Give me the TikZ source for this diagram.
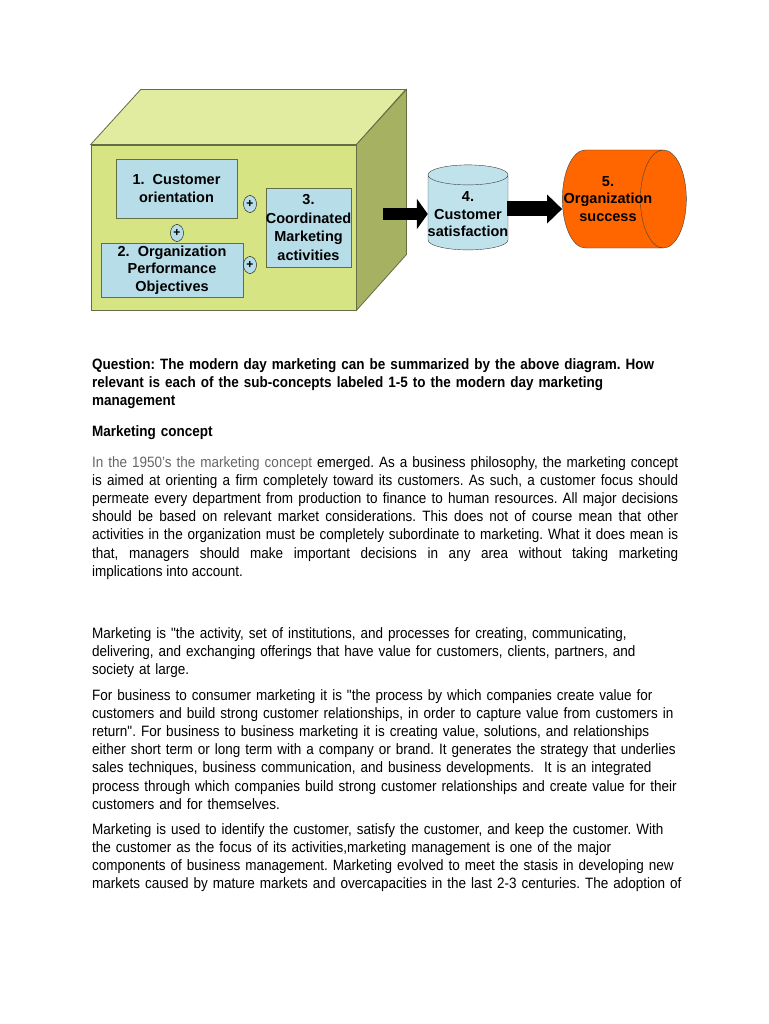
\documentclass[tikz,border=0pt]{standalone}
\usepackage{fontspec}
\setmainfont{Liberation Sans}
\newfontfamily\bodyfont{Liberation Sans}[FakeStretch=0.9]
\usepackage{xcolor}
\usetikzlibrary{shapes.geometric, arrows.meta, positioning}
\definecolor{cubefront}{RGB}{214,228,132}
\definecolor{cubetop}{RGB}{226,236,160}
\definecolor{cubeside}{RGB}{166,178,98}
\definecolor{cubeline}{RGB}{100,110,68}
\definecolor{blu1}{RGB}{183,221,232}
\definecolor{blu2}{RGB}{192,226,234}
\definecolor{orn1}{RGB}{255,102,0}
\tikzstyle{face} = [draw=cubeline, fill=cubefront, line width=0.8pt]
\tikzstyle{concept} = [rectangle, draw=cubeline, fill=blu1, inner sep=0pt,
    align=center, font=\fontsize{14.5}{17.5}\selectfont\bfseries]
\tikzstyle{plus} = [ellipse, draw=black, fill=blu1, inner sep=0pt,
    minimum width=13pt, minimum height=17pt, font=\fontsize{12}{12}\selectfont\bfseries]
\tikzstyle{drum} = [cylinder, draw=black!75, inner sep=0pt]
\tikzstyle{drumtext} = [inner sep=0pt, align=center,
    font=\fontsize{14.5}{17.5}\selectfont\bfseries]
\tikzstyle{bigarrow} = [line width=12pt, -{Triangle[length=11pt,width=30pt]}]
\tikzstyle{para} = [anchor=north west, inner sep=0pt, text width=680pt, align=left,
    font=\bodyfont\fontsize{15}{18.2}\selectfont]

\begin{document}
\frenchspacing
\begin{tikzpicture}[x=1pt, y=-1pt]
    \useasboundingbox (0,0) rectangle (768,1024);
    \fill [white] (0,0) rectangle (768,1024);

    % Cube
    \node (cube) [face, minimum width=265pt, minimum height=165pt] at (223.5,227.5) {};
    \draw [face, fill=cubetop] (cube.north west) -- ++(50,-55) -- ++(265,0) -- (cube.north east) -- cycle;
    \draw [face, fill=cubeside] (cube.north east) -- ++(50,-55) -- ++(0,165) -- (cube.south east) -- cycle;

    \node (orient) [concept, minimum width=121pt, minimum height=59pt] at (176.5,188.5) {1.\ \ Customer\\orientation};
    \node (perform) [concept, minimum width=142pt, minimum height=54pt] at (172,270) {2.\ \ Organization\\Performance\\Objectives};
    \node (coord) [concept, minimum width=83pt, minimum height=79pt,
        font=\fontsize{14.5}{18.5}\selectfont\bfseries] at (308.5,227.5) {3.\\Coordinated\\Marketing\\activities};
    \node (plusa) [plus] at (250,204) {+};
    \node (plusb) [plus] at (177,233) {+};
    \node (plusc) [plus] at (250,265) {+};

    % Cylinders
    \node (satis) [drum, shape border rotate=90, shape aspect=0.25, inner xsep=40pt, fill=blu2,
        minimum width=80pt, minimum height=85pt] at (468,217.5) {};
    \node (satislabel) [drumtext] at (468,214.5) {4.\\Customer\\satisfaction};
    \node (success) [drum, shape aspect=1, inner ysep=23pt, fill=orn1,
        minimum width=98pt, minimum height=124pt] at (603,199) {};
    \node (successlabel) [drumtext] at (608,199) {5.\\Organization\\success};

    % Arrows
    \coordinate (starta) at (383,214);
    \coordinate (startb) at (507,209);
    \draw [bigarrow] (starta) -- (starta -| satis.west);
    \draw [bigarrow, line width=15pt, -{Triangle[length=15pt,width=28pt]}] (startb) -- (startb -| success.west);

    % Text
    \node (question) [para, font=\bodyfont\fontsize{15}{18.2}\selectfont\bfseries] at (92,358)
        {Question: The modern day marketing can be summarized by the above diagram. How\\
        relevant is each of the sub-concepts labeled 1-5 to the modern day marketing\\
        management};
    \node (concepthead) [para, font=\bodyfont\fontsize{15}{18.2}\selectfont\bfseries] at (92,425) {Marketing concept};
    \node (philo) [para, text width=586pt, align=justify] at (92,456)
        {\textcolor{black!60}{In the 1950’s the marketing concept} emerged. As a business philosophy, the marketing concept\linebreak
        is aimed at orienting a firm completely toward its customers. As such, a customer focus should\linebreak
        permeate every department from production to finance to human resources. All major decisions\linebreak
        should be based on relevant market considerations. This does not of course mean that other\linebreak
        activities in the organization must be completely subordinate to marketing. What it does mean is\linebreak
        that, managers should make important decisions in any area without taking marketing\linebreak
        implications into account.};
    \node (define) [para] at (92,627)
        {Marketing is "the activity, set of institutions, and processes for creating, communicating,\\
        delivering, and exchanging offerings that have value for customers, clients, partners, and\\
        society at large.};
    \node (btoc) [para] at (92,689)
        {For business to consumer marketing it is "the process by which companies create value for\\
        customers and build strong customer relationships, in order to capture value from customers in\\
        return". For business to business marketing it is creating value, solutions, and relationships\\
        either short term or long term with a company or brand. It generates the strategy that underlies\\
        sales techniques, business communication, and business developments.\ \ It is an integrated\\
        process through which companies build strong customer relationships and create value for their\\
        customers and for themselves.};
    \node (used) [para] at (92,823)
        {Marketing is used to identify the customer, satisfy the customer, and keep the customer. With\\
        the customer as the focus of its activities,marketing management is one of the major\\
        components of business management. Marketing evolved to meet the stasis in developing new\\
        markets caused by mature markets and overcapacities in the last 2-3 centuries. The adoption of};
\end{tikzpicture}
\end{document}
